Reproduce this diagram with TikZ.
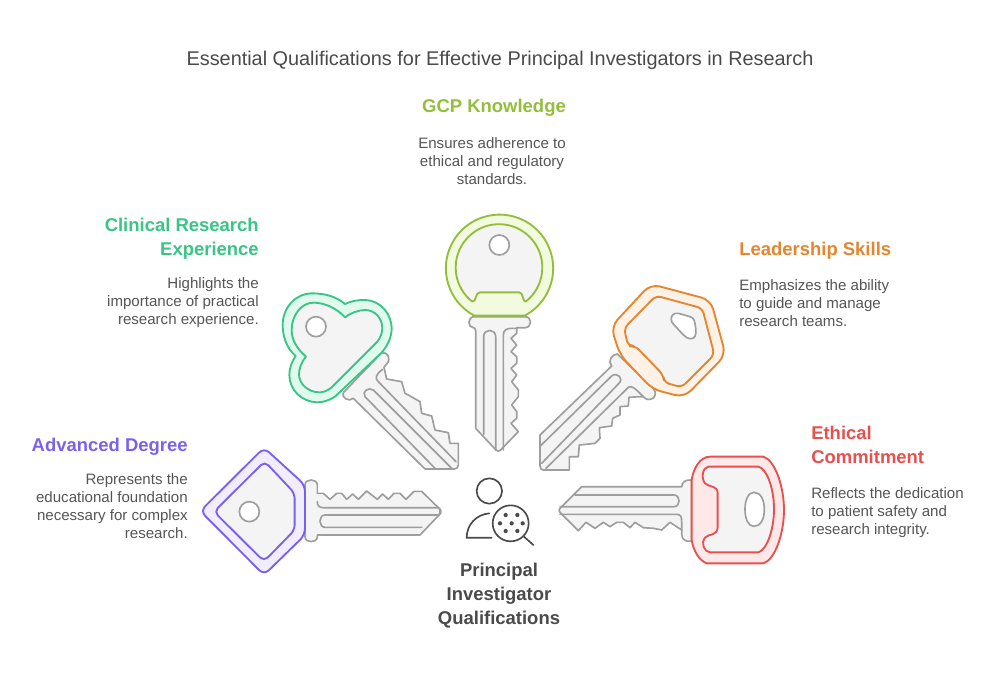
\documentclass[tikz,border=0pt]{standalone}
\usepackage{fontspec}
\setmainfont{Liberation Sans}

\definecolor{keygray}{HTML}{9E9E9E}
\definecolor{keyfill}{HTML}{F4F4F4}
\definecolor{inktext}{HTML}{4A4A4A}
\definecolor{bodytext}{HTML}{555555}
\definecolor{degreecol}{HTML}{7B61EA}
\definecolor{degreetint}{HTML}{F0EDFE}
\definecolor{clinicalcol}{HTML}{38C585}
\definecolor{clinicaltint}{HTML}{E0FAEE}
\definecolor{gcpcol}{HTML}{93BE3A}
\definecolor{gcptint}{HTML}{F2FBDF}
\definecolor{leadcol}{HTML}{E5862F}
\definecolor{leadtint}{HTML}{FEF1E5}
\definecolor{ethicscol}{HTML}{E6504F}
\definecolor{ethicstint}{HTML}{FEE9E8}

\tikzset{
	blade/.style={draw=keygray,fill=keyfill,line width=1.25pt,line join=round},
	groove/.style={draw=keygray,line width=1.25pt,line join=round,line cap=round},
	hole/.style={draw=keygray,fill=white,line width=1.25pt},
	rim/.style={draw=#1,line width=1.4pt,line join=round},
	zoomed/.style={x=0.25pt,y=-0.25pt},
	icon/.style={draw=inktext,line width=1.25pt,line cap=round},
	headtext/.style={font=\fontsize{13.85}{18}\selectfont\bfseries,inner sep=0pt,text depth=0pt},
	bodynote/.style={font=\fontsize{11.3}{13.5}\selectfont,text=bodytext,inner sep=0pt},
}

\begin{document}
\begin{tikzpicture}[x=0.75pt,y=-0.75pt]
	\useasboundingbox (0,0) rectangle (1000,678);
	
	% Advanced Degree key
	\begin{scope}[shift={(190,430)},zoomed]
		\draw[blade] (345,165) .. controls (345,145) and (382,145) .. (382,165) -- (382,190) -- (400,190) -- (420,208) -- (440,190) -- (455,190) -- (470,208) -- (488,192) -- (505,208) -- (530,183) -- (562,208) -- (578,192) -- (595,208) -- (612,190) -- (630,190) -- (648,208) -- (672,184) -- (695,184) -- (752,240) -- (752,250) -- (690,315) -- (382,315) -- (382,320) .. controls (382,340) and (345,340) .. (345,320) -- cycle;
		\draw[groove] (382,215) .. controls (382,228) and (388,233) .. (400,233) -- (745,233) .. controls (752,233) and (752,255) .. (745,255) -- (405,255) .. controls (385,255) and (385,292) .. (405,292) -- (695,292);
		\draw[rim=degreecol,fill=degreetint,rounded corners=5pt] (345,165) -- (222,53) -- (31,243) -- (222,435) -- (345,315) -- cycle;
		\draw[rim=degreecol,fill=keyfill,rounded corners=4pt] (314,190) -- (224,94) -- (72,245) -- (222,394) -- (314,300) -- cycle;
		\draw[hole] (178,245) circle[radius=7.5pt];
	\end{scope}
	
	% Clinical Research key
	\begin{scope}[shift={(270,280)},zoomed]
		\draw[blade] (335,218) .. controls (352,215) and (365,235) .. (350,252) -- (342,262) -- (350,297) -- (395,305) -- (405,340) -- (415,345) -- (450,365) -- (455,400) -- (485,408) -- (495,450) -- (535,458) -- (540,490) -- (565,490) -- (565,555) .. controls (565,562) and (560,567) .. (553,567) -- (465,567) -- (250,355) .. controls (238,368) and (212,352) .. (220,338) -- cycle;
		\draw[groove] (338,268) .. controls (315,285) and (315,295) .. (325,305) -- (558,545);
		\draw[groove] (495,565) -- (285,350) .. controls (275,335) and (295,320) .. (310,330) -- (545,565);
		\draw[rim=clinicalcol,fill=clinicaltint] (225,72) .. controls (245,62) and (265,60) .. (285,60) .. controls (335,62) and (365,105) .. (365,145) .. controls (365,175) and (350,200) .. (335,218) -- (195,350) .. controls (175,362) and (160,367) .. (140,367) .. controls (95,365) and (58,330) .. (58,285) .. controls (58,265) and (65,245) .. (77,228) .. controls (50,205) and (38,170) .. (38,135) .. controls (38,80) and (80,40) .. (125,40) .. controls (165,40) and (200,50) .. (225,72) -- cycle;
		\draw[rim=clinicalcol,fill=keyfill] (225,112) .. controls (240,100) and (265,90) .. (285,90) .. controls (315,90) and (337,115) .. (337,145) .. controls (337,160) and (330,175) .. (322,185) -- (185,322) .. controls (172,333) and (160,337) .. (148,337) .. controls (115,337) and (87,312) .. (87,283) .. controls (87,265) and (95,245) .. (108,230) .. controls (80,205) and (65,180) .. (65,150) .. controls (65,105) and (95,68) .. (130,68) .. controls (165,68) and (200,85) .. (225,112) -- cycle;
		\draw[hole] (138,140) circle[radius=7.5pt];
	\end{scope}
	
	% GCP Knowledge key
	\begin{scope}[shift={(435,205)},zoomed]
		\draw[blade] (118,335) -- (270,335) .. controls (292,335) and (292,368) .. (270,368) -- (245,368) -- (245,385) -- (228,400) -- (245,420) -- (228,440) -- (245,455) -- (245,475) -- (228,490) -- (245,510) -- (230,530) -- (250,555) -- (250,575) -- (230,600) -- (245,620) -- (245,640) -- (228,655) -- (250,680) -- (197,735) .. controls (192,740) and (188,740) .. (183,735) -- (122,670) -- (122,378) .. controls (122,370) and (118,368) .. (115,368) .. controls (97,368) and (97,335) .. (118,335) -- cycle;
		\draw[groove] (146,688) -- (146,395) .. controls (146,370) and (182,370) .. (182,395) -- (182,735);
		\draw[groove] (205,735) -- (205,390) .. controls (205,375) and (215,370) .. (230,370) -- (245,370);
		\draw[rim=gcpcol,fill=gcptint] (118,332) arc[start angle=118,end angle=422,radius=161] -- cycle;
		\draw[rim=gcpcol,fill=keyfill] (135,262) -- (253,262) .. controls (265,262) and (262,290) .. (272,290) arc[start angle=52,end angle=-232,radius=130] .. controls (125,290) and (120,262) .. (135,262) -- cycle;
		\draw[hole] (193,120) circle[radius=7.5pt];
	\end{scope}
	
	% Leadership Skills key
	\begin{scope}[shift={(530,280)},zoomed]
		\draw[blade] (262,222) .. controls (245,222) and (232,245) .. (245,258) -- (30,465) -- (30,558) .. controls (30,565) and (34,570) .. (40,570) -- (118,570) -- (118,530) -- (145,530) -- (148,495) -- (195,490) -- (210,475) -- (208,443) -- (245,438) -- (248,415) -- (270,405) -- (270,380) -- (295,378) -- (297,352) -- (330,350) -- (340,350) .. controls (355,370) and (390,352) .. (370,325) -- cycle;
		\draw[groove] (32,497) -- (245,288) .. controls (260,275) and (285,295) .. (265,312) -- (35,550);
		\draw[groove] (48,565) -- (295,322) .. controls (305,315) and (315,325) .. (340,350);
		\draw[rim=leadcol,fill=leadtint,rounded corners=7pt] (362,12) -- (542,60) -- (587,225) -- (463,352) -- (368,328) -- (270,225) -- (243,140) -- cycle;
		\draw[rim=leadcol,fill=keyfill,rounded corners=4pt] (378,47) -- (517,85) -- (553,224) -- (455,322) -- (402,307) -- (400,285) -- (315,197) -- (295,200) -- (282,145) -- cycle;
		\draw[hole] (425,125) .. controls (420,105) and (432,98) .. (445,100) -- (480,110) .. controls (492,112) and (495,125) .. (497,145) .. controls (500,165) and (495,178) .. (480,176) .. controls (468,175) and (460,165) .. (430,132) -- cycle;
	\end{scope}
	
	% Ethical Commitment key
	\begin{scope}[shift={(550,445)},zoomed]
		\draw[blade] (425,105) .. controls (405,103) and (397,112) .. (395,125) -- (95,125) -- (30,190) .. controls (26,194) and (26,198) .. (30,202) -- (85,257) -- (108,232) -- (135,250) -- (160,232) -- (180,245) -- (200,232) -- (220,232) -- (240,248) -- (255,232) -- (280,248) -- (310,250) -- (335,255) -- (360,232) -- (395,255) -- (395,268) .. controls (395,285) and (410,292) .. (425,288) -- cycle;
		\draw[groove] (30,208) -- (380,208) .. controls (392,208) and (395,215) .. (395,230) -- (395,255);
		\draw[groove] (75,150) -- (372,150) .. controls (392,150) and (392,185) .. (372,185) -- (30,185);
		\draw[rim=ethicscol,fill=ethicstint] (425,105) -- (425,285) .. controls (430,315) and (445,345) .. (470,355) -- (640,355) .. controls (675,345) and (702,265) .. (702,195) .. controls (702,125) and (675,45) .. (640,35) -- (480,35) .. controls (450,35) and (430,70) .. (425,105) -- cycle;
		\draw[rim=ethicscol,fill=keyfill] (475,65) -- (625,65) .. controls (650,70) and (672,130) .. (672,192) .. controls (672,255) and (650,315) .. (625,322) -- (480,322) .. controls (462,320) and (452,295) .. (465,278) .. controls (475,265) and (503,275) .. (503,245) -- (503,145) .. controls (503,120) and (478,128) .. (465,115) .. controls (452,98) and (458,68) .. (475,65) -- cycle;
		\draw[hole] (585,193) .. controls (585,165) and (595,142) .. (612,142) .. controls (632,142) and (643,165) .. (643,193) .. controls (643,222) and (632,244) .. (612,244) .. controls (595,244) and (585,222) .. (585,193) -- cycle;
	\end{scope}
	
	% Investigator icon
	\begin{scope}[shift={(450,465)},zoomed]
		\draw[icon] (118,78) circle[radius=9.5pt];
		\draw[icon] (118,145) .. controls (80,148) and (50,178) .. (50,218) -- (125,218);
		\draw[icon] (182,175) circle[radius=13.5pt];
		\draw[icon] (222,215) -- (250,240);
		\foreach \dotx/\doty in {167/150, 202/150, 150/175, 185/175, 218/175, 167/198, 202/198} {
			\fill[inktext] (\dotx,\doty) circle[radius=1.6pt];
		}
	\end{scope}
	
	% Title and labels
	\node[font=\fontsize{14.9}{18}\selectfont,text=inktext,inner sep=0pt] (title) at (500,60.5) {Essential Qualifications for Effective Principal Investigators in Research};
	
	\node[headtext,text=gcpcol] (gcphead) at (494,106) {GCP Knowledge};
	\node[bodynote,align=center] (gcpnote) at (492,161) {Ensures adherence to\\ethical and regulatory\\standards.};
	
	\node[headtext,text=clinicalcol,align=right,anchor=east] (clinicalhead) at (259,237) {Clinical Research\\Experience};
	\node[bodynote,align=right,anchor=east] (clinicalnote) at (259,303) {Highlights the\\importance of practical\\research experience.};
	
	\node[headtext,text=degreecol,anchor=east] (degreehead) at (188,445) {Advanced Degree};
	\node[bodynote,align=right,anchor=east] (degreenote) at (188,506) {Represents the\\educational foundation\\necessary for complex\\research.};
	
	\node[headtext,text=leadcol,anchor=west] (leadhead) at (739,249) {Leadership Skills};
	\node[bodynote,align=left,anchor=west] (leadnote) at (739,303) {Emphasizes the ability\\to guide and manage\\research teams.};
	
	\node[headtext,text=ethicscol,align=left,anchor=west] (ethicshead) at (811,445) {Ethical\\Commitment};
	\node[bodynote,align=left,anchor=west] (ethicsnote) at (811,513) {Reflects the dedication\\to patient safety and\\research integrity.};
	
	\node[headtext,text=inktext,align=center] (pihead) at (499,594) {Principal\\Investigator\\Qualifications};
	
\end{tikzpicture}
\end{document}
